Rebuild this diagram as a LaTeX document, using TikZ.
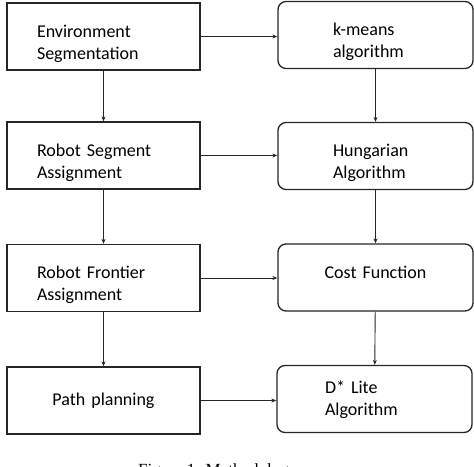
\documentclass[tikz,border=0pt]{standalone}
\usepackage{fontspec}
\setmainfont{Carlito}
\newfontfamily\capfont{Liberation Serif}
\usepackage{tikz}
\usetikzlibrary{positioning, arrows.meta}

\tikzset{
  stepbox/.style={draw=black!85, line width=1.3pt, fill=white,
    minimum width=193pt, minimum height=67pt, inner xsep=30pt,
    text width=133pt, align=left, text height=25pt, text depth=24pt,
    font=\fontsize{18}{22}\selectfont},
  algbox/.style={stepbox, rounded corners=8pt, minimum width=195pt,
    inner xsep=55pt, text width=85pt},
  flow/.style={draw=black!85, line width=0.9pt, -{Stealth[length=5pt,width=4pt]}}
}

\begin{document}
\begin{tikzpicture}[x=1pt, y=-1pt]
    \clip (0,0) rectangle (474,466);

    % Left column: method steps
    \node[stepbox] (env) at (103.5,36.5) {Environment\\Segmentation};
    \node[stepbox] (seg) at (103.5,155.5) {Robot Segment\\Assignment};
    \node[stepbox] (fro) at (103.5,278) {Robot Frontier\\Assignment};
    \node[stepbox, align=center, text height=, text depth=] (path) at (103.5,400.5) {Path planning};

    % Right column: algorithms
    \node[algbox] (kmeans) at (375.5,35) {k-means\\algorithm};
    \node[algbox] (hung) at (375.5,156) {Hungarian\\Algorithm};
    \node[algbox, align=center, inner xsep=20pt, text width=155pt] (cost) at (375.5,277.5) {Cost Function};
    \node[algbox, inner xsep=48pt, text width=99pt, text height=20pt, text depth=32pt] (dlite) at (374.5,399) {D* Lite\\Algorithm};

    % Arrows down
    \draw[flow] (env) -- (seg);
    \draw[flow] (seg) -- (fro);
    \draw[flow] (fro) -- (path);
    \draw[flow] (kmeans) -- (hung);
    \draw[flow] (hung) -- (cost);
    \draw[flow] (cost) -- (dlite);

    % Arrows across
    \draw[flow] (env) -- (env -| kmeans.west);
    \draw[flow] (seg) -- (seg -| hung.west);
    \draw[flow] (fro) -- (fro -| cost.west);
    \draw[flow] (path) -- (path -| dlite.west);

    % Caption (cut at the lower edge)
    \node[anchor=base west, inner sep=0pt, font=\capfont\fontsize{17}{20}\selectfont] (cap) at (138,475) {Figure 1: Methodology};
\end{tikzpicture}
\end{document}
